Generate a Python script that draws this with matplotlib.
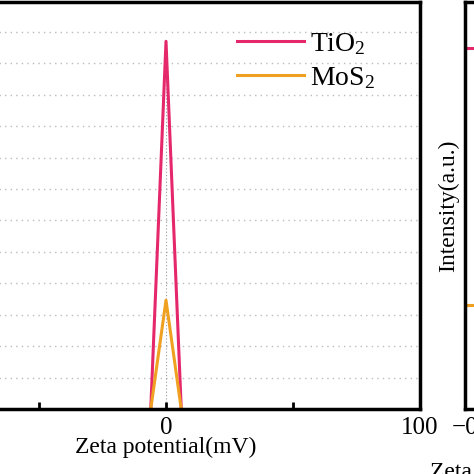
import matplotlib
matplotlib.use("Agg")
import matplotlib.pyplot as plt

plt.rcParams['font.family'] = ['Liberation Serif', 'DejaVu Serif']
plt.rcParams['mathtext.fontset'] = 'custom'
plt.rcParams['mathtext.rm'] = 'Liberation Serif'
plt.rcParams['mathtext.it'] = 'Liberation Serif:italic'

zeta = [-6, 0, 6]
tio2 = [0, 11.7, 0]
mos2 = [0, 3.46, 0]
xticks = [-100, 0, 100]
xticklabels = ['', '0', '100']
# right (cropped) panel
zeta2 = [-100, -90]
tio2_b = [11.5, 11.5]
mos2_b = [3.3, 3.3]

W = 474
fig = plt.figure(figsize=(4.74, 4.74), dpi=100)
ax = fig.add_axes([-88/W, 65/W, 508/W, 407/W])
for v in range(1, 13):
    ax.axhline(v, color='#bbbbbb', ls=(0, (1, 3)), lw=1, zorder=0)
ax.plot([0, 0], [0, 11.7], color='#999999', ls=(0, (1, 2)), lw=0.8, zorder=1)
ax.plot(zeta, tio2, color='#e5286b', lw=2.2, label='TiO$_\\mathregular{2}$')
ax.plot(zeta, mos2, color='#f0a020', lw=2.2, label='MoS$_\\mathregular{2}$')
ax.set_xlim(-100, 100)
ax.set_ylim(0, 12.95)
ax.set_xticks(xticks)
ax.set_xticklabels(xticklabels)
ax.set_xticks([-50, 50], minor=True)
ax.set_yticks([])
ax.tick_params(axis='x', which='both', direction='in', labelsize=18, width=2, length=5, pad=6)
for s in ax.spines.values():
    s.set_linewidth(2.5)
ax.set_xlabel('Zeta potential(mV)', fontsize=17, labelpad=-2)
leg = ax.legend(loc='upper right', frameon=False, fontsize=20, handlelength=2.4,
                bbox_to_anchor=(0.96, 0.99), labelspacing=0.3, handletextpad=0.2)

ax2 = fig.add_axes([465/W, 65/W, 400/W, 407/W])
ax2.plot(zeta2, tio2_b, color='#e5286b', lw=2.2)
ax2.plot(zeta2, mos2_b, color='#f0a020', lw=2.2)
ax2.set_xlim(-100, 100)
ax2.set_ylim(0, 12.95)
ax2.set_xticks([-100])
ax2.set_xticklabels(['−0'])
ax2.set_yticks([])
ax2.tick_params(axis='x', direction='in', labelsize=18, width=2, length=5, pad=6)
for s in ax2.spines.values():
    s.set_linewidth(2.5)
ax2.set_ylabel('Intensity(a.u.)', fontsize=17, labelpad=4)
ax2.set_xlabel('Zeta potential(mV)', fontsize=17)
ax2.xaxis.set_label_coords(-0.088, -0.13)
ax2.xaxis.label.set_ha('left')

fig.savefig('out.png', dpi=100)
